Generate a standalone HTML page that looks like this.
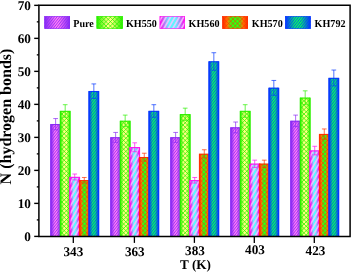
<!DOCTYPE html>
<html><head><meta charset="utf-8"><title>chart</title>
<style>
html,body{margin:0;padding:0;background:#fff;}
body{width:351px;height:272px;overflow:hidden;}
text{font-family:"Liberation Serif","Times New Roman",serif;font-weight:bold;fill:#000;text-rendering:geometricPrecision;}
.t{font-size:13.2px;}
.yl{font-size:16px;}
.lg{font-size:10.6px;}
</style></head><body>
<svg width="351" height="272" viewBox="0 0 351 272" style="display:block">
<defs>
<linearGradient id="g0" x1="0" y1="0" x2="1" y2="0"><stop offset="0.000" stop-color="#8a2cf5"/><stop offset="0.080" stop-color="#8a2cf5"/><stop offset="0.420" stop-color="#ff7cf8"/><stop offset="0.580" stop-color="#ff7cf8"/><stop offset="0.920" stop-color="#8a2cf5"/><stop offset="1.000" stop-color="#8a2cf5"/></linearGradient>
<linearGradient id="g1" x1="0" y1="0" x2="1" y2="0"><stop offset="0.000" stop-color="#2cf000"/><stop offset="0.050" stop-color="#2cf000"/><stop offset="0.360" stop-color="#ffff80"/><stop offset="0.640" stop-color="#ffff80"/><stop offset="0.950" stop-color="#2cf000"/><stop offset="1.000" stop-color="#2cf000"/></linearGradient>
<linearGradient id="g2" x1="0" y1="0" x2="1" y2="0"><stop offset="0.000" stop-color="#ff10f0"/><stop offset="0.140" stop-color="#ff10f0"/><stop offset="0.380" stop-color="#60f4ff"/><stop offset="0.620" stop-color="#60f4ff"/><stop offset="0.860" stop-color="#ff10f0"/><stop offset="1.000" stop-color="#ff10f0"/></linearGradient>
<linearGradient id="g3" x1="0" y1="0" x2="1" y2="0"><stop offset="0.000" stop-color="#ff3000"/><stop offset="0.070" stop-color="#ff3000"/><stop offset="0.225" stop-color="#ff7800"/><stop offset="0.380" stop-color="#30ff10"/><stop offset="0.620" stop-color="#30ff10"/><stop offset="0.775" stop-color="#ff7800"/><stop offset="0.930" stop-color="#ff3000"/><stop offset="1.000" stop-color="#ff3000"/></linearGradient>
<linearGradient id="g4" x1="0" y1="0" x2="1" y2="0"><stop offset="0.000" stop-color="#0638ff"/><stop offset="0.060" stop-color="#0638ff"/><stop offset="0.380" stop-color="#08fa60"/><stop offset="0.620" stop-color="#08fa60"/><stop offset="0.940" stop-color="#0638ff"/><stop offset="1.000" stop-color="#0638ff"/></linearGradient>
<linearGradient id="s0" x1="0" y1="0" x2="1" y2="0"><stop offset="0.000" stop-color="#8a2cf5"/><stop offset="0.030" stop-color="#8a2cf5"/><stop offset="0.440" stop-color="#ff7cf8"/><stop offset="0.560" stop-color="#ff7cf8"/><stop offset="0.970" stop-color="#8a2cf5"/><stop offset="1.000" stop-color="#8a2cf5"/></linearGradient>
<linearGradient id="s1" x1="0" y1="0" x2="1" y2="0"><stop offset="0.000" stop-color="#2cf000"/><stop offset="0.030" stop-color="#2cf000"/><stop offset="0.420" stop-color="#ffff80"/><stop offset="0.580" stop-color="#ffff80"/><stop offset="0.970" stop-color="#2cf000"/><stop offset="1.000" stop-color="#2cf000"/></linearGradient>
<linearGradient id="s2" x1="0" y1="0" x2="1" y2="0"><stop offset="0.000" stop-color="#ff10f0"/><stop offset="0.040" stop-color="#ff10f0"/><stop offset="0.360" stop-color="#60f4ff"/><stop offset="0.640" stop-color="#60f4ff"/><stop offset="0.960" stop-color="#ff10f0"/><stop offset="1.000" stop-color="#ff10f0"/></linearGradient>
<linearGradient id="s3" x1="0" y1="0" x2="1" y2="0"><stop offset="0.000" stop-color="#ff3000"/><stop offset="0.040" stop-color="#ff3000"/><stop offset="0.200" stop-color="#ff7800"/><stop offset="0.360" stop-color="#30ff10"/><stop offset="0.640" stop-color="#30ff10"/><stop offset="0.800" stop-color="#ff7800"/><stop offset="0.960" stop-color="#ff3000"/><stop offset="1.000" stop-color="#ff3000"/></linearGradient>
<linearGradient id="s4" x1="0" y1="0" x2="1" y2="0"><stop offset="0.000" stop-color="#0638ff"/><stop offset="0.020" stop-color="#0638ff"/><stop offset="0.380" stop-color="#08fa60"/><stop offset="0.620" stop-color="#08fa60"/><stop offset="0.980" stop-color="#0638ff"/><stop offset="1.000" stop-color="#0638ff"/></linearGradient>
<clipPath id="c0">
<rect x="50.85" y="124.18" width="9.55" height="112.22"/>
<rect x="110.85" y="137.38" width="9.55" height="99.02"/>
<rect x="170.85" y="137.38" width="9.55" height="99.02"/>
<rect x="230.85" y="127.48" width="9.55" height="108.92"/>
<rect x="290.85" y="120.88" width="9.55" height="115.53"/>
<rect x="44.4" y="16.2" width="25.60" height="12.60"/>
</clipPath>
<clipPath id="c1">
<rect x="60.40" y="110.97" width="9.55" height="125.43"/>
<rect x="120.40" y="120.88" width="9.55" height="115.53"/>
<rect x="180.40" y="114.27" width="9.55" height="122.13"/>
<rect x="240.40" y="110.97" width="9.55" height="125.43"/>
<rect x="300.40" y="97.77" width="9.55" height="138.63"/>
<rect x="96.6" y="16.2" width="26.20" height="12.60"/>
</clipPath>
<clipPath id="c2">
<rect x="69.95" y="176.99" width="9.55" height="59.41"/>
<rect x="129.95" y="147.28" width="9.55" height="89.12"/>
<rect x="189.95" y="180.29" width="9.55" height="56.11"/>
<rect x="249.95" y="163.78" width="9.55" height="72.62"/>
<rect x="309.95" y="150.58" width="9.55" height="85.82"/>
<rect x="159.7" y="16.2" width="25.30" height="12.60"/>
</clipPath>
<clipPath id="c3">
<rect x="79.50" y="180.29" width="9.55" height="56.11"/>
<rect x="139.50" y="157.18" width="9.55" height="79.22"/>
<rect x="199.50" y="153.88" width="9.55" height="82.52"/>
<rect x="259.50" y="163.78" width="9.55" height="72.62"/>
<rect x="319.50" y="134.08" width="9.55" height="102.32"/>
<rect x="222.3" y="16.2" width="25.70" height="12.60"/>
</clipPath>
<clipPath id="c4">
<rect x="89.05" y="91.17" width="9.55" height="145.23"/>
<rect x="149.05" y="110.97" width="9.55" height="125.43"/>
<rect x="209.05" y="61.46" width="9.55" height="174.94"/>
<rect x="269.05" y="87.87" width="9.55" height="148.53"/>
<rect x="329.05" y="77.97" width="9.55" height="158.43"/>
<rect x="285.2" y="16.2" width="25.50" height="12.60"/>
</clipPath>
</defs>
<rect width="351" height="272" fill="#fff"/>
<rect x="50.30" y="124.18" width="10.65" height="112.22" fill="url(#g0)"/>
<rect x="110.30" y="137.38" width="10.65" height="99.02" fill="url(#g0)"/>
<rect x="170.30" y="137.38" width="10.65" height="99.02" fill="url(#g0)"/>
<rect x="230.30" y="127.48" width="10.65" height="108.92" fill="url(#g0)"/>
<rect x="290.30" y="120.88" width="10.65" height="115.53" fill="url(#g0)"/>
<rect x="44.4" y="16.2" width="25.60" height="12.60" fill="url(#s0)"/>
<path clip-path="url(#c0)" d="M-212.51 272L0.00 0M-209.91 272L2.60 0M-207.31 272L5.20 0M-204.71 272L7.80 0M-202.11 272L10.40 0M-199.51 272L13.00 0M-196.91 272L15.60 0M-194.31 272L18.20 0M-191.71 272L20.80 0M-189.11 272L23.40 0M-186.51 272L26.00 0M-183.91 272L28.60 0M-181.31 272L31.20 0M-178.71 272L33.80 0M-176.11 272L36.40 0M-173.51 272L39.00 0M-170.91 272L41.60 0M-168.31 272L44.20 0M-165.71 272L46.80 0M-163.11 272L49.40 0M-160.51 272L52.00 0M-157.91 272L54.60 0M-155.31 272L57.20 0M-152.71 272L59.80 0M-150.11 272L62.40 0M-147.51 272L65.00 0M-144.91 272L67.60 0M-142.31 272L70.20 0M-139.71 272L72.80 0M-137.11 272L75.40 0M-134.51 272L78.00 0M-131.91 272L80.60 0M-129.31 272L83.20 0M-126.71 272L85.80 0M-124.11 272L88.40 0M-121.51 272L91.00 0M-118.91 272L93.60 0M-116.31 272L96.20 0M-113.71 272L98.80 0M-111.11 272L101.40 0M-108.51 272L104.00 0M-105.91 272L106.60 0M-103.31 272L109.20 0M-100.71 272L111.80 0M-98.11 272L114.40 0M-95.51 272L117.00 0M-92.91 272L119.60 0M-90.31 272L122.20 0M-87.71 272L124.80 0M-85.11 272L127.40 0M-82.51 272L130.00 0M-79.91 272L132.60 0M-77.31 272L135.20 0M-74.71 272L137.80 0M-72.11 272L140.40 0M-69.51 272L143.00 0M-66.91 272L145.60 0M-64.31 272L148.20 0M-61.71 272L150.80 0M-59.11 272L153.40 0M-56.51 272L156.00 0M-53.91 272L158.60 0M-51.31 272L161.20 0M-48.71 272L163.80 0M-46.11 272L166.40 0M-43.51 272L169.00 0M-40.91 272L171.60 0M-38.31 272L174.20 0M-35.71 272L176.80 0M-33.11 272L179.40 0M-30.51 272L182.00 0M-27.91 272L184.60 0M-25.31 272L187.20 0M-22.71 272L189.80 0M-20.11 272L192.40 0M-17.51 272L195.00 0M-14.91 272L197.60 0M-12.31 272L200.20 0M-9.71 272L202.80 0M-7.11 272L205.40 0M-4.51 272L208.00 0M-1.91 272L210.60 0M0.69 272L213.20 0M3.29 272L215.80 0M5.89 272L218.40 0M8.49 272L221.00 0M11.09 272L223.60 0M13.69 272L226.20 0M16.29 272L228.80 0M18.89 272L231.40 0M21.49 272L234.00 0M24.09 272L236.60 0M26.69 272L239.20 0M29.29 272L241.80 0M31.89 272L244.40 0M34.49 272L247.00 0M37.09 272L249.60 0M39.69 272L252.20 0M42.29 272L254.80 0M44.89 272L257.40 0M47.49 272L260.00 0M50.09 272L262.60 0M52.69 272L265.20 0M55.29 272L267.80 0M57.89 272L270.40 0M60.49 272L273.00 0M63.09 272L275.60 0M65.69 272L278.20 0M68.29 272L280.80 0M70.89 272L283.40 0M73.49 272L286.00 0M76.09 272L288.60 0M78.69 272L291.20 0M81.29 272L293.80 0M83.89 272L296.40 0M86.49 272L299.00 0M89.09 272L301.60 0M91.69 272L304.20 0M94.29 272L306.80 0M96.89 272L309.40 0M99.49 272L312.00 0M102.09 272L314.60 0M104.69 272L317.20 0M107.29 272L319.80 0M109.89 272L322.40 0M112.49 272L325.00 0M115.09 272L327.60 0M117.69 272L330.20 0M120.29 272L332.80 0M122.89 272L335.40 0M125.49 272L338.00 0M128.09 272L340.60 0M130.69 272L343.20 0M133.29 272L345.80 0M135.89 272L348.40 0M138.49 272L351.00 0M141.09 272L353.60 0M143.69 272L356.20 0M146.29 272L358.80 0M148.89 272L361.40 0M151.49 272L364.00 0M154.09 272L366.60 0M156.69 272L369.20 0M159.29 272L371.80 0M161.89 272L374.40 0M164.49 272L377.00 0M167.09 272L379.60 0M169.69 272L382.20 0M172.29 272L384.80 0M174.89 272L387.40 0M177.49 272L390.00 0M180.09 272L392.60 0M182.69 272L395.20 0M185.29 272L397.80 0M187.89 272L400.40 0M190.49 272L403.00 0M193.09 272L405.60 0M195.69 272L408.20 0M198.29 272L410.80 0M200.89 272L413.40 0M203.49 272L416.00 0M206.09 272L418.60 0M208.69 272L421.20 0M211.29 272L423.80 0M213.89 272L426.40 0M216.49 272L429.00 0M219.09 272L431.60 0M221.69 272L434.20 0M224.29 272L436.80 0M226.89 272L439.40 0M229.49 272L442.00 0M232.09 272L444.60 0M234.69 272L447.20 0M237.29 272L449.80 0M239.89 272L452.40 0M242.49 272L455.00 0M245.09 272L457.60 0M247.69 272L460.20 0M250.29 272L462.80 0M252.89 272L465.40 0M255.49 272L468.00 0M258.09 272L470.60 0M260.69 272L473.20 0M263.29 272L475.80 0M265.89 272L478.40 0M268.49 272L481.00 0M271.09 272L483.60 0M273.69 272L486.20 0M276.29 272L488.80 0M278.89 272L491.40 0M281.49 272L494.00 0M284.09 272L496.60 0M286.69 272L499.20 0M289.29 272L501.80 0M291.89 272L504.40 0M294.49 272L507.00 0M297.09 272L509.60 0M299.69 272L512.20 0M302.29 272L514.80 0M304.89 272L517.40 0M307.49 272L520.00 0M310.09 272L522.60 0M312.69 272L525.20 0M315.29 272L527.80 0M317.89 272L530.40 0M320.49 272L533.00 0M323.09 272L535.60 0M325.69 272L538.20 0M328.29 272L540.80 0M330.89 272L543.40 0M333.49 272L546.00 0M336.09 272L548.60 0M338.69 272L551.20 0M341.29 272L553.80 0M343.89 272L556.40 0M346.49 272L559.00 0M349.09 272L561.60 0" stroke="#8a2cf5" stroke-width="1.0" stroke-opacity="0.8" fill="none"/>
<rect x="50.85" y="124.53" width="9.55" height="111.87" fill="none" stroke="#8a2cf5" stroke-width="1.1"/>
<rect x="110.85" y="137.73" width="9.55" height="98.67" fill="none" stroke="#8a2cf5" stroke-width="1.1"/>
<rect x="170.85" y="137.73" width="9.55" height="98.67" fill="none" stroke="#8a2cf5" stroke-width="1.1"/>
<rect x="230.85" y="127.83" width="9.55" height="108.57" fill="none" stroke="#8a2cf5" stroke-width="1.1"/>
<rect x="290.85" y="121.22" width="9.55" height="115.18" fill="none" stroke="#8a2cf5" stroke-width="1.1"/>
<rect x="44.699999999999996" y="16.5" width="25.00" height="12.00" fill="none" stroke="#8a2cf5" stroke-width="0.6"/>
<text transform="translate(73.20,26.5) scale(0.955,1)" class="lg">Pure</text>
<rect x="59.85" y="110.97" width="10.65" height="125.43" fill="url(#g1)"/>
<rect x="119.85" y="120.88" width="10.65" height="115.53" fill="url(#g1)"/>
<rect x="179.85" y="114.27" width="10.65" height="122.13" fill="url(#g1)"/>
<rect x="239.85" y="110.97" width="10.65" height="125.43" fill="url(#g1)"/>
<rect x="299.85" y="97.77" width="10.65" height="138.63" fill="url(#g1)"/>
<rect x="96.6" y="16.2" width="26.20" height="12.60" fill="url(#s1)"/>
<path clip-path="url(#c1)" d="M-272.00 272L0.00 0M-267.60 272L4.40 0M-263.20 272L8.80 0M-258.80 272L13.20 0M-254.40 272L17.60 0M-250.00 272L22.00 0M-245.60 272L26.40 0M-241.20 272L30.80 0M-236.80 272L35.20 0M-232.40 272L39.60 0M-228.00 272L44.00 0M-223.60 272L48.40 0M-219.20 272L52.80 0M-214.80 272L57.20 0M-210.40 272L61.60 0M-206.00 272L66.00 0M-201.60 272L70.40 0M-197.20 272L74.80 0M-192.80 272L79.20 0M-188.40 272L83.60 0M-184.00 272L88.00 0M-179.60 272L92.40 0M-175.20 272L96.80 0M-170.80 272L101.20 0M-166.40 272L105.60 0M-162.00 272L110.00 0M-157.60 272L114.40 0M-153.20 272L118.80 0M-148.80 272L123.20 0M-144.40 272L127.60 0M-140.00 272L132.00 0M-135.60 272L136.40 0M-131.20 272L140.80 0M-126.80 272L145.20 0M-122.40 272L149.60 0M-118.00 272L154.00 0M-113.60 272L158.40 0M-109.20 272L162.80 0M-104.80 272L167.20 0M-100.40 272L171.60 0M-96.00 272L176.00 0M-91.60 272L180.40 0M-87.20 272L184.80 0M-82.80 272L189.20 0M-78.40 272L193.60 0M-74.00 272L198.00 0M-69.60 272L202.40 0M-65.20 272L206.80 0M-60.80 272L211.20 0M-56.40 272L215.60 0M-52.00 272L220.00 0M-47.60 272L224.40 0M-43.20 272L228.80 0M-38.80 272L233.20 0M-34.40 272L237.60 0M-30.00 272L242.00 0M-25.60 272L246.40 0M-21.20 272L250.80 0M-16.80 272L255.20 0M-12.40 272L259.60 0M-8.00 272L264.00 0M-3.60 272L268.40 0M0.80 272L272.80 0M5.20 272L277.20 0M9.60 272L281.60 0M14.00 272L286.00 0M18.40 272L290.40 0M22.80 272L294.80 0M27.20 272L299.20 0M31.60 272L303.60 0M36.00 272L308.00 0M40.40 272L312.40 0M44.80 272L316.80 0M49.20 272L321.20 0M53.60 272L325.60 0M58.00 272L330.00 0M62.40 272L334.40 0M66.80 272L338.80 0M71.20 272L343.20 0M75.60 272L347.60 0M80.00 272L352.00 0M84.40 272L356.40 0M88.80 272L360.80 0M93.20 272L365.20 0M97.60 272L369.60 0M102.00 272L374.00 0M106.40 272L378.40 0M110.80 272L382.80 0M115.20 272L387.20 0M119.60 272L391.60 0M124.00 272L396.00 0M128.40 272L400.40 0M132.80 272L404.80 0M137.20 272L409.20 0M141.60 272L413.60 0M146.00 272L418.00 0M150.40 272L422.40 0M154.80 272L426.80 0M159.20 272L431.20 0M163.60 272L435.60 0M168.00 272L440.00 0M172.40 272L444.40 0M176.80 272L448.80 0M181.20 272L453.20 0M185.60 272L457.60 0M190.00 272L462.00 0M194.40 272L466.40 0M198.80 272L470.80 0M203.20 272L475.20 0M207.60 272L479.60 0M212.00 272L484.00 0M216.40 272L488.40 0M220.80 272L492.80 0M225.20 272L497.20 0M229.60 272L501.60 0M234.00 272L506.00 0M238.40 272L510.40 0M242.80 272L514.80 0M247.20 272L519.20 0M251.60 272L523.60 0M256.00 272L528.00 0M260.40 272L532.40 0M264.80 272L536.80 0M269.20 272L541.20 0M273.60 272L545.60 0M278.00 272L550.00 0M282.40 272L554.40 0M286.80 272L558.80 0M291.20 272L563.20 0M295.60 272L567.60 0M300.00 272L572.00 0M304.40 272L576.40 0M308.80 272L580.80 0M313.20 272L585.20 0M317.60 272L589.60 0M322.00 272L594.00 0M326.40 272L598.40 0M330.80 272L602.80 0M335.20 272L607.20 0M339.60 272L611.60 0M344.00 272L616.00 0M348.40 272L620.40 0M-272.00 0L0.00 272M-267.60 0L4.40 272M-263.20 0L8.80 272M-258.80 0L13.20 272M-254.40 0L17.60 272M-250.00 0L22.00 272M-245.60 0L26.40 272M-241.20 0L30.80 272M-236.80 0L35.20 272M-232.40 0L39.60 272M-228.00 0L44.00 272M-223.60 0L48.40 272M-219.20 0L52.80 272M-214.80 0L57.20 272M-210.40 0L61.60 272M-206.00 0L66.00 272M-201.60 0L70.40 272M-197.20 0L74.80 272M-192.80 0L79.20 272M-188.40 0L83.60 272M-184.00 0L88.00 272M-179.60 0L92.40 272M-175.20 0L96.80 272M-170.80 0L101.20 272M-166.40 0L105.60 272M-162.00 0L110.00 272M-157.60 0L114.40 272M-153.20 0L118.80 272M-148.80 0L123.20 272M-144.40 0L127.60 272M-140.00 0L132.00 272M-135.60 0L136.40 272M-131.20 0L140.80 272M-126.80 0L145.20 272M-122.40 0L149.60 272M-118.00 0L154.00 272M-113.60 0L158.40 272M-109.20 0L162.80 272M-104.80 0L167.20 272M-100.40 0L171.60 272M-96.00 0L176.00 272M-91.60 0L180.40 272M-87.20 0L184.80 272M-82.80 0L189.20 272M-78.40 0L193.60 272M-74.00 0L198.00 272M-69.60 0L202.40 272M-65.20 0L206.80 272M-60.80 0L211.20 272M-56.40 0L215.60 272M-52.00 0L220.00 272M-47.60 0L224.40 272M-43.20 0L228.80 272M-38.80 0L233.20 272M-34.40 0L237.60 272M-30.00 0L242.00 272M-25.60 0L246.40 272M-21.20 0L250.80 272M-16.80 0L255.20 272M-12.40 0L259.60 272M-8.00 0L264.00 272M-3.60 0L268.40 272M0.80 0L272.80 272M5.20 0L277.20 272M9.60 0L281.60 272M14.00 0L286.00 272M18.40 0L290.40 272M22.80 0L294.80 272M27.20 0L299.20 272M31.60 0L303.60 272M36.00 0L308.00 272M40.40 0L312.40 272M44.80 0L316.80 272M49.20 0L321.20 272M53.60 0L325.60 272M58.00 0L330.00 272M62.40 0L334.40 272M66.80 0L338.80 272M71.20 0L343.20 272M75.60 0L347.60 272M80.00 0L352.00 272M84.40 0L356.40 272M88.80 0L360.80 272M93.20 0L365.20 272M97.60 0L369.60 272M102.00 0L374.00 272M106.40 0L378.40 272M110.80 0L382.80 272M115.20 0L387.20 272M119.60 0L391.60 272M124.00 0L396.00 272M128.40 0L400.40 272M132.80 0L404.80 272M137.20 0L409.20 272M141.60 0L413.60 272M146.00 0L418.00 272M150.40 0L422.40 272M154.80 0L426.80 272M159.20 0L431.20 272M163.60 0L435.60 272M168.00 0L440.00 272M172.40 0L444.40 272M176.80 0L448.80 272M181.20 0L453.20 272M185.60 0L457.60 272M190.00 0L462.00 272M194.40 0L466.40 272M198.80 0L470.80 272M203.20 0L475.20 272M207.60 0L479.60 272M212.00 0L484.00 272M216.40 0L488.40 272M220.80 0L492.80 272M225.20 0L497.20 272M229.60 0L501.60 272M234.00 0L506.00 272M238.40 0L510.40 272M242.80 0L514.80 272M247.20 0L519.20 272M251.60 0L523.60 272M256.00 0L528.00 272M260.40 0L532.40 272M264.80 0L536.80 272M269.20 0L541.20 272M273.60 0L545.60 272M278.00 0L550.00 272M282.40 0L554.40 272M286.80 0L558.80 272M291.20 0L563.20 272M295.60 0L567.60 272M300.00 0L572.00 272M304.40 0L576.40 272M308.80 0L580.80 272M313.20 0L585.20 272M317.60 0L589.60 272M322.00 0L594.00 272M326.40 0L598.40 272M330.80 0L602.80 272M335.20 0L607.20 272M339.60 0L611.60 272M344.00 0L616.00 272M348.40 0L620.40 272" stroke="#2cf000" stroke-width="0.85" stroke-opacity="0.9" fill="none"/>
<rect x="60.40" y="111.32" width="9.55" height="125.08" fill="none" stroke="#2cf000" stroke-width="1.1"/>
<rect x="120.40" y="121.22" width="9.55" height="115.18" fill="none" stroke="#2cf000" stroke-width="1.1"/>
<rect x="180.40" y="114.62" width="9.55" height="121.78" fill="none" stroke="#2cf000" stroke-width="1.1"/>
<rect x="240.40" y="111.32" width="9.55" height="125.08" fill="none" stroke="#2cf000" stroke-width="1.1"/>
<rect x="300.40" y="98.12" width="9.55" height="138.28" fill="none" stroke="#2cf000" stroke-width="1.1"/>
<rect x="96.89999999999999" y="16.5" width="25.60" height="12.00" fill="none" stroke="#2cf000" stroke-width="0.6"/>
<text transform="translate(126.00,26.5) scale(0.955,1)" class="lg">KH550</text>
<rect x="69.40" y="176.99" width="10.65" height="59.41" fill="url(#g2)"/>
<rect x="129.40" y="147.28" width="10.65" height="89.12" fill="url(#g2)"/>
<rect x="189.40" y="180.29" width="10.65" height="56.11" fill="url(#g2)"/>
<rect x="249.40" y="163.78" width="10.65" height="72.62" fill="url(#g2)"/>
<rect x="309.40" y="150.58" width="10.65" height="85.82" fill="url(#g2)"/>
<rect x="159.7" y="16.2" width="25.30" height="12.60" fill="url(#s2)"/>
<path clip-path="url(#c2)" d="M-157.04 272L0.00 0M-152.64 272L4.40 0M-148.24 272L8.80 0M-143.84 272L13.20 0M-139.44 272L17.60 0M-135.04 272L22.00 0M-130.64 272L26.40 0M-126.24 272L30.80 0M-121.84 272L35.20 0M-117.44 272L39.60 0M-113.04 272L44.00 0M-108.64 272L48.40 0M-104.24 272L52.80 0M-99.84 272L57.20 0M-95.44 272L61.60 0M-91.04 272L66.00 0M-86.64 272L70.40 0M-82.24 272L74.80 0M-77.84 272L79.20 0M-73.44 272L83.60 0M-69.04 272L88.00 0M-64.64 272L92.40 0M-60.24 272L96.80 0M-55.84 272L101.20 0M-51.44 272L105.60 0M-47.04 272L110.00 0M-42.64 272L114.40 0M-38.24 272L118.80 0M-33.84 272L123.20 0M-29.44 272L127.60 0M-25.04 272L132.00 0M-20.64 272L136.40 0M-16.24 272L140.80 0M-11.84 272L145.20 0M-7.44 272L149.60 0M-3.04 272L154.00 0M1.36 272L158.40 0M5.76 272L162.80 0M10.16 272L167.20 0M14.56 272L171.60 0M18.96 272L176.00 0M23.36 272L180.40 0M27.76 272L184.80 0M32.16 272L189.20 0M36.56 272L193.60 0M40.96 272L198.00 0M45.36 272L202.40 0M49.76 272L206.80 0M54.16 272L211.20 0M58.56 272L215.60 0M62.96 272L220.00 0M67.36 272L224.40 0M71.76 272L228.80 0M76.16 272L233.20 0M80.56 272L237.60 0M84.96 272L242.00 0M89.36 272L246.40 0M93.76 272L250.80 0M98.16 272L255.20 0M102.56 272L259.60 0M106.96 272L264.00 0M111.36 272L268.40 0M115.76 272L272.80 0M120.16 272L277.20 0M124.56 272L281.60 0M128.96 272L286.00 0M133.36 272L290.40 0M137.76 272L294.80 0M142.16 272L299.20 0M146.56 272L303.60 0M150.96 272L308.00 0M155.36 272L312.40 0M159.76 272L316.80 0M164.16 272L321.20 0M168.56 272L325.60 0M172.96 272L330.00 0M177.36 272L334.40 0M181.76 272L338.80 0M186.16 272L343.20 0M190.56 272L347.60 0M194.96 272L352.00 0M199.36 272L356.40 0M203.76 272L360.80 0M208.16 272L365.20 0M212.56 272L369.60 0M216.96 272L374.00 0M221.36 272L378.40 0M225.76 272L382.80 0M230.16 272L387.20 0M234.56 272L391.60 0M238.96 272L396.00 0M243.36 272L400.40 0M247.76 272L404.80 0M252.16 272L409.20 0M256.56 272L413.60 0M260.96 272L418.00 0M265.36 272L422.40 0M269.76 272L426.80 0M274.16 272L431.20 0M278.56 272L435.60 0M282.96 272L440.00 0M287.36 272L444.40 0M291.76 272L448.80 0M296.16 272L453.20 0M300.56 272L457.60 0M304.96 272L462.00 0M309.36 272L466.40 0M313.76 272L470.80 0M318.16 272L475.20 0M322.56 272L479.60 0M326.96 272L484.00 0M331.36 272L488.40 0M335.76 272L492.80 0M340.16 272L497.20 0M344.56 272L501.60 0M348.96 272L506.00 0" stroke="#f4c4ff" stroke-width="1.7" stroke-opacity="0.85" fill="none"/>
<rect x="69.95" y="177.34" width="9.55" height="59.06" fill="none" stroke="#ff10f0" stroke-width="1.1"/>
<rect x="129.95" y="147.63" width="9.55" height="88.77" fill="none" stroke="#ff10f0" stroke-width="1.1"/>
<rect x="189.95" y="180.64" width="9.55" height="55.76" fill="none" stroke="#ff10f0" stroke-width="1.1"/>
<rect x="249.95" y="164.13" width="9.55" height="72.27" fill="none" stroke="#ff10f0" stroke-width="1.1"/>
<rect x="309.95" y="150.93" width="9.55" height="85.47" fill="none" stroke="#ff10f0" stroke-width="1.1"/>
<rect x="160.0" y="16.5" width="24.70" height="12.00" fill="none" stroke="#ff10f0" stroke-width="0.6"/>
<text transform="translate(188.60,26.5) scale(0.955,1)" class="lg">KH560</text>
<rect x="78.95" y="180.29" width="10.65" height="56.11" fill="url(#g3)"/>
<rect x="138.95" y="157.18" width="10.65" height="79.22" fill="url(#g3)"/>
<rect x="198.95" y="153.88" width="10.65" height="82.52" fill="url(#g3)"/>
<rect x="258.95" y="163.78" width="10.65" height="72.62" fill="url(#g3)"/>
<rect x="318.95" y="134.08" width="10.65" height="102.32" fill="url(#g3)"/>
<rect x="222.3" y="16.2" width="25.70" height="12.60" fill="url(#s3)"/>
<path clip-path="url(#c3)" d="M-272.00 272L0.00 0M-267.50 272L4.50 0M-263.00 272L9.00 0M-258.50 272L13.50 0M-254.00 272L18.00 0M-249.50 272L22.50 0M-245.00 272L27.00 0M-240.50 272L31.50 0M-236.00 272L36.00 0M-231.50 272L40.50 0M-227.00 272L45.00 0M-222.50 272L49.50 0M-218.00 272L54.00 0M-213.50 272L58.50 0M-209.00 272L63.00 0M-204.50 272L67.50 0M-200.00 272L72.00 0M-195.50 272L76.50 0M-191.00 272L81.00 0M-186.50 272L85.50 0M-182.00 272L90.00 0M-177.50 272L94.50 0M-173.00 272L99.00 0M-168.50 272L103.50 0M-164.00 272L108.00 0M-159.50 272L112.50 0M-155.00 272L117.00 0M-150.50 272L121.50 0M-146.00 272L126.00 0M-141.50 272L130.50 0M-137.00 272L135.00 0M-132.50 272L139.50 0M-128.00 272L144.00 0M-123.50 272L148.50 0M-119.00 272L153.00 0M-114.50 272L157.50 0M-110.00 272L162.00 0M-105.50 272L166.50 0M-101.00 272L171.00 0M-96.50 272L175.50 0M-92.00 272L180.00 0M-87.50 272L184.50 0M-83.00 272L189.00 0M-78.50 272L193.50 0M-74.00 272L198.00 0M-69.50 272L202.50 0M-65.00 272L207.00 0M-60.50 272L211.50 0M-56.00 272L216.00 0M-51.50 272L220.50 0M-47.00 272L225.00 0M-42.50 272L229.50 0M-38.00 272L234.00 0M-33.50 272L238.50 0M-29.00 272L243.00 0M-24.50 272L247.50 0M-20.00 272L252.00 0M-15.50 272L256.50 0M-11.00 272L261.00 0M-6.50 272L265.50 0M-2.00 272L270.00 0M2.50 272L274.50 0M7.00 272L279.00 0M11.50 272L283.50 0M16.00 272L288.00 0M20.50 272L292.50 0M25.00 272L297.00 0M29.50 272L301.50 0M34.00 272L306.00 0M38.50 272L310.50 0M43.00 272L315.00 0M47.50 272L319.50 0M52.00 272L324.00 0M56.50 272L328.50 0M61.00 272L333.00 0M65.50 272L337.50 0M70.00 272L342.00 0M74.50 272L346.50 0M79.00 272L351.00 0M83.50 272L355.50 0M88.00 272L360.00 0M92.50 272L364.50 0M97.00 272L369.00 0M101.50 272L373.50 0M106.00 272L378.00 0M110.50 272L382.50 0M115.00 272L387.00 0M119.50 272L391.50 0M124.00 272L396.00 0M128.50 272L400.50 0M133.00 272L405.00 0M137.50 272L409.50 0M142.00 272L414.00 0M146.50 272L418.50 0M151.00 272L423.00 0M155.50 272L427.50 0M160.00 272L432.00 0M164.50 272L436.50 0M169.00 272L441.00 0M173.50 272L445.50 0M178.00 272L450.00 0M182.50 272L454.50 0M187.00 272L459.00 0M191.50 272L463.50 0M196.00 272L468.00 0M200.50 272L472.50 0M205.00 272L477.00 0M209.50 272L481.50 0M214.00 272L486.00 0M218.50 272L490.50 0M223.00 272L495.00 0M227.50 272L499.50 0M232.00 272L504.00 0M236.50 272L508.50 0M241.00 272L513.00 0M245.50 272L517.50 0M250.00 272L522.00 0M254.50 272L526.50 0M259.00 272L531.00 0M263.50 272L535.50 0M268.00 272L540.00 0M272.50 272L544.50 0M277.00 272L549.00 0M281.50 272L553.50 0M286.00 272L558.00 0M290.50 272L562.50 0M295.00 272L567.00 0M299.50 272L571.50 0M304.00 272L576.00 0M308.50 272L580.50 0M313.00 272L585.00 0M317.50 272L589.50 0M322.00 272L594.00 0M326.50 272L598.50 0M331.00 272L603.00 0M335.50 272L607.50 0M340.00 272L612.00 0M344.50 272L616.50 0M349.00 272L621.00 0M-272.00 0L0.00 272M-267.50 0L4.50 272M-263.00 0L9.00 272M-258.50 0L13.50 272M-254.00 0L18.00 272M-249.50 0L22.50 272M-245.00 0L27.00 272M-240.50 0L31.50 272M-236.00 0L36.00 272M-231.50 0L40.50 272M-227.00 0L45.00 272M-222.50 0L49.50 272M-218.00 0L54.00 272M-213.50 0L58.50 272M-209.00 0L63.00 272M-204.50 0L67.50 272M-200.00 0L72.00 272M-195.50 0L76.50 272M-191.00 0L81.00 272M-186.50 0L85.50 272M-182.00 0L90.00 272M-177.50 0L94.50 272M-173.00 0L99.00 272M-168.50 0L103.50 272M-164.00 0L108.00 272M-159.50 0L112.50 272M-155.00 0L117.00 272M-150.50 0L121.50 272M-146.00 0L126.00 272M-141.50 0L130.50 272M-137.00 0L135.00 272M-132.50 0L139.50 272M-128.00 0L144.00 272M-123.50 0L148.50 272M-119.00 0L153.00 272M-114.50 0L157.50 272M-110.00 0L162.00 272M-105.50 0L166.50 272M-101.00 0L171.00 272M-96.50 0L175.50 272M-92.00 0L180.00 272M-87.50 0L184.50 272M-83.00 0L189.00 272M-78.50 0L193.50 272M-74.00 0L198.00 272M-69.50 0L202.50 272M-65.00 0L207.00 272M-60.50 0L211.50 272M-56.00 0L216.00 272M-51.50 0L220.50 272M-47.00 0L225.00 272M-42.50 0L229.50 272M-38.00 0L234.00 272M-33.50 0L238.50 272M-29.00 0L243.00 272M-24.50 0L247.50 272M-20.00 0L252.00 272M-15.50 0L256.50 272M-11.00 0L261.00 272M-6.50 0L265.50 272M-2.00 0L270.00 272M2.50 0L274.50 272M7.00 0L279.00 272M11.50 0L283.50 272M16.00 0L288.00 272M20.50 0L292.50 272M25.00 0L297.00 272M29.50 0L301.50 272M34.00 0L306.00 272M38.50 0L310.50 272M43.00 0L315.00 272M47.50 0L319.50 272M52.00 0L324.00 272M56.50 0L328.50 272M61.00 0L333.00 272M65.50 0L337.50 272M70.00 0L342.00 272M74.50 0L346.50 272M79.00 0L351.00 272M83.50 0L355.50 272M88.00 0L360.00 272M92.50 0L364.50 272M97.00 0L369.00 272M101.50 0L373.50 272M106.00 0L378.00 272M110.50 0L382.50 272M115.00 0L387.00 272M119.50 0L391.50 272M124.00 0L396.00 272M128.50 0L400.50 272M133.00 0L405.00 272M137.50 0L409.50 272M142.00 0L414.00 272M146.50 0L418.50 272M151.00 0L423.00 272M155.50 0L427.50 272M160.00 0L432.00 272M164.50 0L436.50 272M169.00 0L441.00 272M173.50 0L445.50 272M178.00 0L450.00 272M182.50 0L454.50 272M187.00 0L459.00 272M191.50 0L463.50 272M196.00 0L468.00 272M200.50 0L472.50 272M205.00 0L477.00 272M209.50 0L481.50 272M214.00 0L486.00 272M218.50 0L490.50 272M223.00 0L495.00 272M227.50 0L499.50 272M232.00 0L504.00 272M236.50 0L508.50 272M241.00 0L513.00 272M245.50 0L517.50 272M250.00 0L522.00 272M254.50 0L526.50 272M259.00 0L531.00 272M263.50 0L535.50 272M268.00 0L540.00 272M272.50 0L544.50 272M277.00 0L549.00 272M281.50 0L553.50 272M286.00 0L558.00 272M290.50 0L562.50 272M295.00 0L567.00 272M299.50 0L571.50 272M304.00 0L576.00 272M308.50 0L580.50 272M313.00 0L585.00 272M317.50 0L589.50 272M322.00 0L594.00 272M326.50 0L598.50 272M331.00 0L603.00 272M335.50 0L607.50 272M340.00 0L612.00 272M344.50 0L616.50 272M349.00 0L621.00 272" stroke="#ff3000" stroke-width="0.6" stroke-opacity="0.9" fill="none"/>
<rect x="79.50" y="180.64" width="9.55" height="55.76" fill="none" stroke="#ff3000" stroke-width="1.1"/>
<rect x="139.50" y="157.53" width="9.55" height="78.87" fill="none" stroke="#ff3000" stroke-width="1.1"/>
<rect x="199.50" y="154.23" width="9.55" height="82.17" fill="none" stroke="#ff3000" stroke-width="1.1"/>
<rect x="259.50" y="164.13" width="9.55" height="72.27" fill="none" stroke="#ff3000" stroke-width="1.1"/>
<rect x="319.50" y="134.43" width="9.55" height="101.97" fill="none" stroke="#ff3000" stroke-width="1.1"/>
<rect x="222.60000000000002" y="16.5" width="25.10" height="12.00" fill="none" stroke="#ff3000" stroke-width="0.6"/>
<text transform="translate(251.80,26.5) scale(0.955,1)" class="lg">KH570</text>
<rect x="88.50" y="91.17" width="10.65" height="145.23" fill="url(#g4)"/>
<rect x="148.50" y="110.97" width="10.65" height="125.43" fill="url(#g4)"/>
<rect x="208.50" y="61.46" width="10.65" height="174.94" fill="url(#g4)"/>
<rect x="268.50" y="87.87" width="10.65" height="148.53" fill="url(#g4)"/>
<rect x="328.50" y="77.97" width="10.65" height="158.43" fill="url(#g4)"/>
<rect x="285.2" y="16.2" width="25.50" height="12.60" fill="url(#s4)"/>
<path clip-path="url(#c4)" d="M-212.51 272L0.00 0M-209.91 272L2.60 0M-207.31 272L5.20 0M-204.71 272L7.80 0M-202.11 272L10.40 0M-199.51 272L13.00 0M-196.91 272L15.60 0M-194.31 272L18.20 0M-191.71 272L20.80 0M-189.11 272L23.40 0M-186.51 272L26.00 0M-183.91 272L28.60 0M-181.31 272L31.20 0M-178.71 272L33.80 0M-176.11 272L36.40 0M-173.51 272L39.00 0M-170.91 272L41.60 0M-168.31 272L44.20 0M-165.71 272L46.80 0M-163.11 272L49.40 0M-160.51 272L52.00 0M-157.91 272L54.60 0M-155.31 272L57.20 0M-152.71 272L59.80 0M-150.11 272L62.40 0M-147.51 272L65.00 0M-144.91 272L67.60 0M-142.31 272L70.20 0M-139.71 272L72.80 0M-137.11 272L75.40 0M-134.51 272L78.00 0M-131.91 272L80.60 0M-129.31 272L83.20 0M-126.71 272L85.80 0M-124.11 272L88.40 0M-121.51 272L91.00 0M-118.91 272L93.60 0M-116.31 272L96.20 0M-113.71 272L98.80 0M-111.11 272L101.40 0M-108.51 272L104.00 0M-105.91 272L106.60 0M-103.31 272L109.20 0M-100.71 272L111.80 0M-98.11 272L114.40 0M-95.51 272L117.00 0M-92.91 272L119.60 0M-90.31 272L122.20 0M-87.71 272L124.80 0M-85.11 272L127.40 0M-82.51 272L130.00 0M-79.91 272L132.60 0M-77.31 272L135.20 0M-74.71 272L137.80 0M-72.11 272L140.40 0M-69.51 272L143.00 0M-66.91 272L145.60 0M-64.31 272L148.20 0M-61.71 272L150.80 0M-59.11 272L153.40 0M-56.51 272L156.00 0M-53.91 272L158.60 0M-51.31 272L161.20 0M-48.71 272L163.80 0M-46.11 272L166.40 0M-43.51 272L169.00 0M-40.91 272L171.60 0M-38.31 272L174.20 0M-35.71 272L176.80 0M-33.11 272L179.40 0M-30.51 272L182.00 0M-27.91 272L184.60 0M-25.31 272L187.20 0M-22.71 272L189.80 0M-20.11 272L192.40 0M-17.51 272L195.00 0M-14.91 272L197.60 0M-12.31 272L200.20 0M-9.71 272L202.80 0M-7.11 272L205.40 0M-4.51 272L208.00 0M-1.91 272L210.60 0M0.69 272L213.20 0M3.29 272L215.80 0M5.89 272L218.40 0M8.49 272L221.00 0M11.09 272L223.60 0M13.69 272L226.20 0M16.29 272L228.80 0M18.89 272L231.40 0M21.49 272L234.00 0M24.09 272L236.60 0M26.69 272L239.20 0M29.29 272L241.80 0M31.89 272L244.40 0M34.49 272L247.00 0M37.09 272L249.60 0M39.69 272L252.20 0M42.29 272L254.80 0M44.89 272L257.40 0M47.49 272L260.00 0M50.09 272L262.60 0M52.69 272L265.20 0M55.29 272L267.80 0M57.89 272L270.40 0M60.49 272L273.00 0M63.09 272L275.60 0M65.69 272L278.20 0M68.29 272L280.80 0M70.89 272L283.40 0M73.49 272L286.00 0M76.09 272L288.60 0M78.69 272L291.20 0M81.29 272L293.80 0M83.89 272L296.40 0M86.49 272L299.00 0M89.09 272L301.60 0M91.69 272L304.20 0M94.29 272L306.80 0M96.89 272L309.40 0M99.49 272L312.00 0M102.09 272L314.60 0M104.69 272L317.20 0M107.29 272L319.80 0M109.89 272L322.40 0M112.49 272L325.00 0M115.09 272L327.60 0M117.69 272L330.20 0M120.29 272L332.80 0M122.89 272L335.40 0M125.49 272L338.00 0M128.09 272L340.60 0M130.69 272L343.20 0M133.29 272L345.80 0M135.89 272L348.40 0M138.49 272L351.00 0M141.09 272L353.60 0M143.69 272L356.20 0M146.29 272L358.80 0M148.89 272L361.40 0M151.49 272L364.00 0M154.09 272L366.60 0M156.69 272L369.20 0M159.29 272L371.80 0M161.89 272L374.40 0M164.49 272L377.00 0M167.09 272L379.60 0M169.69 272L382.20 0M172.29 272L384.80 0M174.89 272L387.40 0M177.49 272L390.00 0M180.09 272L392.60 0M182.69 272L395.20 0M185.29 272L397.80 0M187.89 272L400.40 0M190.49 272L403.00 0M193.09 272L405.60 0M195.69 272L408.20 0M198.29 272L410.80 0M200.89 272L413.40 0M203.49 272L416.00 0M206.09 272L418.60 0M208.69 272L421.20 0M211.29 272L423.80 0M213.89 272L426.40 0M216.49 272L429.00 0M219.09 272L431.60 0M221.69 272L434.20 0M224.29 272L436.80 0M226.89 272L439.40 0M229.49 272L442.00 0M232.09 272L444.60 0M234.69 272L447.20 0M237.29 272L449.80 0M239.89 272L452.40 0M242.49 272L455.00 0M245.09 272L457.60 0M247.69 272L460.20 0M250.29 272L462.80 0M252.89 272L465.40 0M255.49 272L468.00 0M258.09 272L470.60 0M260.69 272L473.20 0M263.29 272L475.80 0M265.89 272L478.40 0M268.49 272L481.00 0M271.09 272L483.60 0M273.69 272L486.20 0M276.29 272L488.80 0M278.89 272L491.40 0M281.49 272L494.00 0M284.09 272L496.60 0M286.69 272L499.20 0M289.29 272L501.80 0M291.89 272L504.40 0M294.49 272L507.00 0M297.09 272L509.60 0M299.69 272L512.20 0M302.29 272L514.80 0M304.89 272L517.40 0M307.49 272L520.00 0M310.09 272L522.60 0M312.69 272L525.20 0M315.29 272L527.80 0M317.89 272L530.40 0M320.49 272L533.00 0M323.09 272L535.60 0M325.69 272L538.20 0M328.29 272L540.80 0M330.89 272L543.40 0M333.49 272L546.00 0M336.09 272L548.60 0M338.69 272L551.20 0M341.29 272L553.80 0M343.89 272L556.40 0M346.49 272L559.00 0M349.09 272L561.60 0" stroke="#0638ff" stroke-width="0.85" stroke-opacity="0.9" fill="none"/>
<rect x="89.05" y="91.52" width="9.55" height="144.88" fill="none" stroke="#0638ff" stroke-width="1.1"/>
<rect x="149.05" y="111.32" width="9.55" height="125.08" fill="none" stroke="#0638ff" stroke-width="1.1"/>
<rect x="209.05" y="61.81" width="9.55" height="174.59" fill="none" stroke="#0638ff" stroke-width="1.1"/>
<rect x="269.05" y="88.22" width="9.55" height="148.18" fill="none" stroke="#0638ff" stroke-width="1.1"/>
<rect x="329.05" y="78.32" width="9.55" height="158.08" fill="none" stroke="#0638ff" stroke-width="1.1"/>
<rect x="285.5" y="16.5" width="24.90" height="12.00" fill="none" stroke="#0638ff" stroke-width="0.6"/>
<text transform="translate(314.60,26.5) scale(0.955,1)" class="lg">KH792</text>
<path d="M55.62 118.56 V129.79 M53.27 118.56 H57.98 M53.27 129.79 H57.98" stroke="#8a2cf5" stroke-width="0.7" fill="none"/>
<path d="M115.62 132.43 V142.33 M113.28 132.43 H117.97 M113.28 142.33 H117.97" stroke="#8a2cf5" stroke-width="0.7" fill="none"/>
<path d="M175.62 132.43 V142.33 M173.28 132.43 H177.97 M173.28 142.33 H177.97" stroke="#8a2cf5" stroke-width="0.7" fill="none"/>
<path d="M235.62 122.03 V132.92 M233.28 122.03 H237.97 M233.28 132.92 H237.97" stroke="#8a2cf5" stroke-width="0.7" fill="none"/>
<path d="M295.62 115.10 V126.65 M293.27 115.10 H297.98 M293.27 126.65 H297.98" stroke="#8a2cf5" stroke-width="0.7" fill="none"/>
<path d="M65.18 104.70 V117.24 M62.83 104.70 H67.53 M62.83 117.24 H67.53" stroke="#2cf000" stroke-width="0.7" fill="none"/>
<path d="M125.17 115.10 V126.65 M122.83 115.10 H127.52 M122.83 126.65 H127.52" stroke="#2cf000" stroke-width="0.7" fill="none"/>
<path d="M185.18 108.17 V120.38 M182.83 108.17 H187.53 M182.83 120.38 H187.53" stroke="#2cf000" stroke-width="0.7" fill="none"/>
<path d="M245.18 104.70 V117.24 M242.83 104.70 H247.53 M242.83 117.24 H247.53" stroke="#2cf000" stroke-width="0.7" fill="none"/>
<path d="M305.18 90.84 V104.70 M302.82 90.84 H307.53 M302.82 104.70 H307.53" stroke="#2cf000" stroke-width="0.7" fill="none"/>
<path d="M74.73 174.02 V179.96 M72.38 174.02 H77.08 M72.38 179.96 H77.08" stroke="#ff10f0" stroke-width="0.7" fill="none"/>
<path d="M134.72 142.82 V151.74 M132.38 142.82 H137.07 M132.38 151.74 H137.07" stroke="#ff10f0" stroke-width="0.7" fill="none"/>
<path d="M194.72 177.48 V183.09 M192.38 177.48 H197.07 M192.38 183.09 H197.07" stroke="#ff10f0" stroke-width="0.7" fill="none"/>
<path d="M254.72 160.15 V167.42 M252.38 160.15 H257.07 M252.38 167.42 H257.07" stroke="#ff10f0" stroke-width="0.7" fill="none"/>
<path d="M314.73 146.29 V154.87 M312.38 146.29 H317.08 M312.38 154.87 H317.08" stroke="#ff10f0" stroke-width="0.7" fill="none"/>
<path d="M84.28 177.48 V183.09 M81.93 177.48 H86.62 M81.93 183.09 H86.62" stroke="#ff3000" stroke-width="0.7" fill="none"/>
<path d="M144.28 153.22 V161.14 M141.93 153.22 H146.62 M141.93 161.14 H146.62" stroke="#ff3000" stroke-width="0.7" fill="none"/>
<path d="M204.28 149.76 V158.01 M201.93 149.76 H206.62 M201.93 158.01 H206.62" stroke="#ff3000" stroke-width="0.7" fill="none"/>
<path d="M264.27 160.15 V167.42 M261.92 160.15 H266.62 M261.92 167.42 H266.62" stroke="#ff3000" stroke-width="0.7" fill="none"/>
<path d="M324.27 128.96 V139.19 M321.92 128.96 H326.62 M321.92 139.19 H326.62" stroke="#ff3000" stroke-width="0.7" fill="none"/>
<path d="M93.83 83.91 V98.43 M91.48 83.91 H96.18 M91.48 98.43 H96.18" stroke="#0638ff" stroke-width="0.7" fill="none"/>
<path d="M153.83 104.70 V117.24 M151.48 104.70 H156.18 M151.48 117.24 H156.18" stroke="#0638ff" stroke-width="0.7" fill="none"/>
<path d="M213.83 52.72 V70.21 M211.48 52.72 H216.18 M211.48 70.21 H216.18" stroke="#0638ff" stroke-width="0.7" fill="none"/>
<path d="M273.82 80.44 V95.29 M271.47 80.44 H276.18 M271.47 95.29 H276.18" stroke="#0638ff" stroke-width="0.7" fill="none"/>
<path d="M333.82 70.04 V85.89 M331.47 70.04 H336.18 M331.47 85.89 H336.18" stroke="#0638ff" stroke-width="0.7" fill="none"/>
<path d="M38.9 236.4 V5.35 H350.1 V236.4 H38.15" stroke="#000" stroke-width="1.5" fill="none"/>
<path d="M38.9 236.40 H34.199999999999996" stroke="#000" stroke-width="1.4"/>
<path d="M38.9 219.90 H36.8" stroke="#000" stroke-width="1.3"/>
<text x="30.9" y="240.90" text-anchor="end" class="t">0</text>
<path d="M38.9 203.39 H34.199999999999996" stroke="#000" stroke-width="1.4"/>
<path d="M38.9 186.89 H36.8" stroke="#000" stroke-width="1.3"/>
<text x="30.9" y="207.89" text-anchor="end" class="t">10</text>
<path d="M38.9 170.39 H34.199999999999996" stroke="#000" stroke-width="1.4"/>
<path d="M38.9 153.88 H36.8" stroke="#000" stroke-width="1.3"/>
<text x="30.9" y="174.89" text-anchor="end" class="t">20</text>
<path d="M38.9 137.38 H34.199999999999996" stroke="#000" stroke-width="1.4"/>
<path d="M38.9 120.88 H36.8" stroke="#000" stroke-width="1.3"/>
<text x="30.9" y="141.88" text-anchor="end" class="t">30</text>
<path d="M38.9 104.37 H34.199999999999996" stroke="#000" stroke-width="1.4"/>
<path d="M38.9 87.87 H36.8" stroke="#000" stroke-width="1.3"/>
<text x="30.9" y="108.87" text-anchor="end" class="t">40</text>
<path d="M38.9 71.36 H34.199999999999996" stroke="#000" stroke-width="1.4"/>
<path d="M38.9 54.86 H36.8" stroke="#000" stroke-width="1.3"/>
<text x="30.9" y="75.86" text-anchor="end" class="t">50</text>
<path d="M38.9 38.36 H34.199999999999996" stroke="#000" stroke-width="1.4"/>
<path d="M38.9 21.85 H36.8" stroke="#000" stroke-width="1.3"/>
<text x="30.9" y="42.86" text-anchor="end" class="t">60</text>
<path d="M38.9 5.35 H34.199999999999996" stroke="#000" stroke-width="1.4"/>
<text x="30.9" y="9.85" text-anchor="end" class="t">70</text>
<path d="M73.3 236.4 V242.9" stroke="#000" stroke-width="1.3"/>
<text x="73.4" y="256.2" text-anchor="middle" class="t">343</text>
<path d="M134.4 236.4 V242.9" stroke="#000" stroke-width="1.3"/>
<text x="134.8" y="256.2" text-anchor="middle" class="t">363</text>
<path d="M194.4 236.4 V242.9" stroke="#000" stroke-width="1.3"/>
<text x="195.0" y="254.6" text-anchor="middle" class="t">383</text>
<path d="M254.3 236.4 V242.9" stroke="#000" stroke-width="1.3"/>
<text x="255.0" y="254.4" text-anchor="middle" class="t">403</text>
<path d="M314.3 236.4 V242.9" stroke="#000" stroke-width="1.3"/>
<text x="315.5" y="255.2" text-anchor="middle" class="t">423</text>
<text x="195.5" y="269.4" text-anchor="middle" class="t">T (K)</text>
<text transform="translate(11.4,116.5) rotate(-90)" text-anchor="middle" class="yl">N (hydrogen bonds)</text>
</svg>
</body></html>
